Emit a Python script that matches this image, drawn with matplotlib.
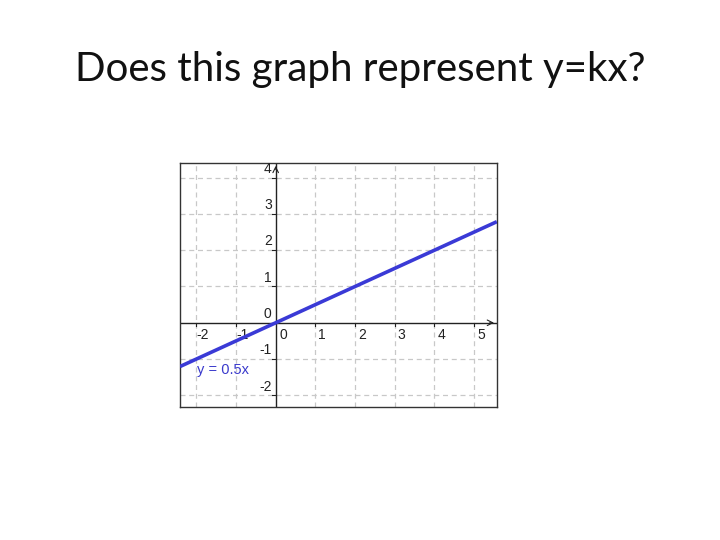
import matplotlib
matplotlib.use("Agg")
import matplotlib.pyplot as plt
import numpy as np

title = "Does this graph represent y=kx?"
slope = 0.5
line_label = "y = 0.5x"
x_ticks = [-2, -1, 1, 2, 3, 4, 5]
y_ticks = [-2, -1, 1, 2, 3, 4]
x_lim = (-2.41, 5.57)
y_lim = (-2.32, 4.40)

fig = plt.figure(figsize=(7.2, 5.4), dpi=100)
fig.text(0.5, 0.850, title, ha="center", va="baseline", fontsize=29,
         family=["Lato", "DejaVu Sans"], color="#111111")

ax = fig.add_axes([0.25, 0.2463, 0.44, 0.4517])
ax.set_xlim(*x_lim)
ax.set_ylim(*y_lim)
for s in ax.spines.values():
    s.set_color("#333333")
    s.set_linewidth(1.0)
ax.set_xticks([])
ax.set_yticks([])

for xv in x_ticks:
    ax.axvline(xv, color="#c8c8c8", lw=0.9, ls=(0, (4, 3)), zorder=1)
for yv in y_ticks:
    ax.axhline(yv, color="#c8c8c8", lw=0.9, ls=(0, (4, 3)), zorder=1)

# axes
ax.axhline(0, color="#222222", lw=1.0, zorder=2)
ax.axvline(0, color="#222222", lw=1.0, zorder=2)
ax.annotate("", xy=(x_lim[1], 0), xytext=(x_lim[1] - 0.25, 0),
            arrowprops=dict(arrowstyle="->", color="#222222", lw=0.8), zorder=3)
ax.annotate("", xy=(0, y_lim[1]), xytext=(0, y_lim[1] - 0.25),
            arrowprops=dict(arrowstyle="->", color="#222222", lw=0.8), zorder=3)

lab_font = dict(fontsize=10, family=["Liberation Sans", "DejaVu Sans"], color="#222222")
for xv in x_ticks:
    ax.plot([xv, xv], [0, -0.08], color="#222222", lw=0.8, zorder=3)
    ax.text(xv + 0.17, -0.13, str(xv), ha="center", va="top", **lab_font)
ax.text(0.2, -0.13, "0", ha="center", va="top", **lab_font)
for yv in y_ticks:
    ax.plot([0, -0.08], [yv, yv], color="#222222", lw=0.8, zorder=3)
    ax.text(-0.1, yv + 0.05, str(yv), ha="right", va="bottom", **lab_font)
ax.text(-0.1, 0.05, "0", ha="right", va="bottom", **lab_font)

xs = np.array(x_lim)
ax.plot(xs, slope * xs, color="#3a3ad6", lw=2.6, zorder=4, solid_capstyle="butt")
ax.text(-1.98, -1.3, line_label, ha="left", va="center", fontsize=10.5,
        family=["Liberation Sans", "DejaVu Sans"], color="#3a3acc")

fig.savefig("out.png", dpi=100)
